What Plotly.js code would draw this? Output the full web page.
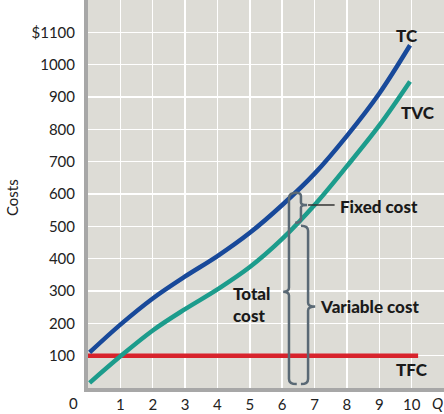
<!DOCTYPE html>
<html>
<head>
<meta charset="utf-8">
<script src="https://cdn.plot.ly/plotly-3.0.1.min.js"></script>
<style>html,body{margin:0;padding:0;background:#fff;}#chart{width:444px;height:414px;}</style>
</head>
<body>
<div id="chart"></div>
<script>
// Output quantity Q
const quantity = [0.05, 1, 2, 3, 4, 5, 6, 7, 8, 9, 9.95];
// Total cost (TC)
const totalCost = [110, 196, 277, 345, 408, 480, 566, 663, 780, 911, 1060];
// Total variable cost (TVC)
const variableCost = [16, 98, 178, 244, 305, 374, 461, 566, 686, 812, 948];
// Total fixed cost (TFC)
const fixedQ = [0, 10.2];
const fixedCost = [100, 100];
// Axis ticks
const xTicks = [1, 2, 3, 4, 5, 6, 7, 8, 9, 10];
const xTickText = ['1', '2', '3', '4', '5', '6', '7', '8', '9', '10'];
const yTicks = [100, 200, 300, 400, 500, 600, 700, 800, 900, 1000, 1100];
const yTickText = ['100', '200', '300', '400', '500', '600', '700', '800', '900', '1000', '$1100'];

const FONT = 'Lato, "Open Sans", sans-serif';
const braceColor = '#5a6975';

function bracePath(xs, xt, xe, yTop, yBot, yTip, r, rt) {
  return 'M' + xe + ',' + yTop +
    ' Q' + xs + ',' + yTop + ' ' + xs + ',' + (yTop - r) +
    ' L' + xs + ',' + (yTip + rt) +
    ' Q' + xs + ',' + yTip + ' ' + xt + ',' + yTip +
    ' Q' + xs + ',' + yTip + ' ' + xs + ',' + (yTip - rt) +
    ' L' + xs + ',' + (yBot + r) +
    ' Q' + xs + ',' + yBot + ' ' + xe + ',' + yBot;
}

const traces = [
  {x: fixedQ, y: fixedCost, mode: 'lines', line: {color: '#d8232c', width: 4.5}, hoverinfo: 'skip'},
  {x: quantity, y: variableCost, mode: 'lines', line: {color: '#1c9c8c', width: 4.5, shape: 'spline', smoothing: 1}, hoverinfo: 'skip'},
  {x: quantity, y: totalCost, mode: 'lines', line: {color: '#18499a', width: 4.5, shape: 'spline', smoothing: 1}, hoverinfo: 'skip'}
];

const shapes = [
  {type: 'path', xref: 'x', yref: 'y', path: bracePath(6.21, 6.03, 6.45, 604, 12, 298, 16, 12), line: {color: braceColor, width: 2.5}},
  {type: 'path', xref: 'x', yref: 'y', path: bracePath(6.58, 6.77, 6.40, 604, 511, 566, 10, 8), line: {color: braceColor, width: 2.5}},
  {type: 'path', xref: 'x', yref: 'y', path: bracePath(6.80, 7.02, 6.58, 502, 12, 252, 16, 12), line: {color: braceColor, width: 2.5}},
  {type: 'line', xref: 'x', yref: 'y', x0: 6.8, x1: 7.62, y0: 566, y1: 566, line: {color: '#333', width: 1.5}}
];

const lblFont = {family: 'Lato, sans-serif', size: 17, color: '#1a1a1a', weight: 900};
const axFont = {family: FONT, size: 15, color: '#222'};
const annotations = [
  {x: 9.85, y: 1090, xref: 'x', yref: 'y', text: 'TC', showarrow: false, font: lblFont},
  {x: 10.2, y: 853, xref: 'x', yref: 'y', text: 'TVC', showarrow: false, font: lblFont},
  {x: 10.0, y: 57, xref: 'x', yref: 'y', text: 'TFC', showarrow: false, font: lblFont},
  {x: 7.72, y: 562, xref: 'x', yref: 'y', xanchor: 'left', text: 'Fixed cost', showarrow: false, font: lblFont},
  {x: 7.12, y: 252, xref: 'x', yref: 'y', xanchor: 'left', text: 'Variable cost', showarrow: false, font: lblFont},
  {x: 4.42, y: 258, xref: 'x', yref: 'y', xanchor: 'left', align: 'left', text: 'Total<br>cost', showarrow: false, font: lblFont},
  {x: -0.042, y: -0.039, xref: 'paper', yref: 'paper', xanchor: 'center', yanchor: 'middle', text: '0', showarrow: false, font: axFont},
  {x: 0.982, y: -0.039, xref: 'paper', yref: 'paper', xanchor: 'center', yanchor: 'middle', text: 'Q', showarrow: false, font: {family: FONT, size: 15, color: '#222', style: 'italic'}},
  {x: -0.2135, y: 0.492, xref: 'paper', yref: 'paper', xanchor: 'center', yanchor: 'middle', text: 'Costs', textangle: -90, showarrow: false, font: axFont}
];

const layout = {
  width: 444, height: 414,
  margin: {l: 88, r: 0, t: 0, b: 26},
  paper_bgcolor: '#ffffff',
  plot_bgcolor: '#dddcd6',
  showlegend: false,
  font: axFont,
  xaxis: {
    range: [0, 11], tickvals: xTicks, ticktext: xTickText,
    showgrid: true, gridcolor: '#ffffff', gridwidth: 1.5,
    zeroline: false, showline: true, linecolor: '#a7a7a7', linewidth: 4,
    ticks: '', ticklabelstandoff: 0, tickfont: axFont
  },
  yaxis: {
    range: [0, 1200], tickvals: yTicks, ticktext: yTickText,
    showgrid: true, gridcolor: '#ffffff', gridwidth: 1.5,
    zeroline: false, showline: true, linecolor: '#a7a7a7', linewidth: 4,
    ticks: '', ticklabelstandoff: 6, tickfont: axFont
  },
  shapes: shapes,
  annotations: annotations
};

Plotly.newPlot('chart', traces, layout, {staticPlot: true, displayModeBar: false});
</script>
</body>
</html>
